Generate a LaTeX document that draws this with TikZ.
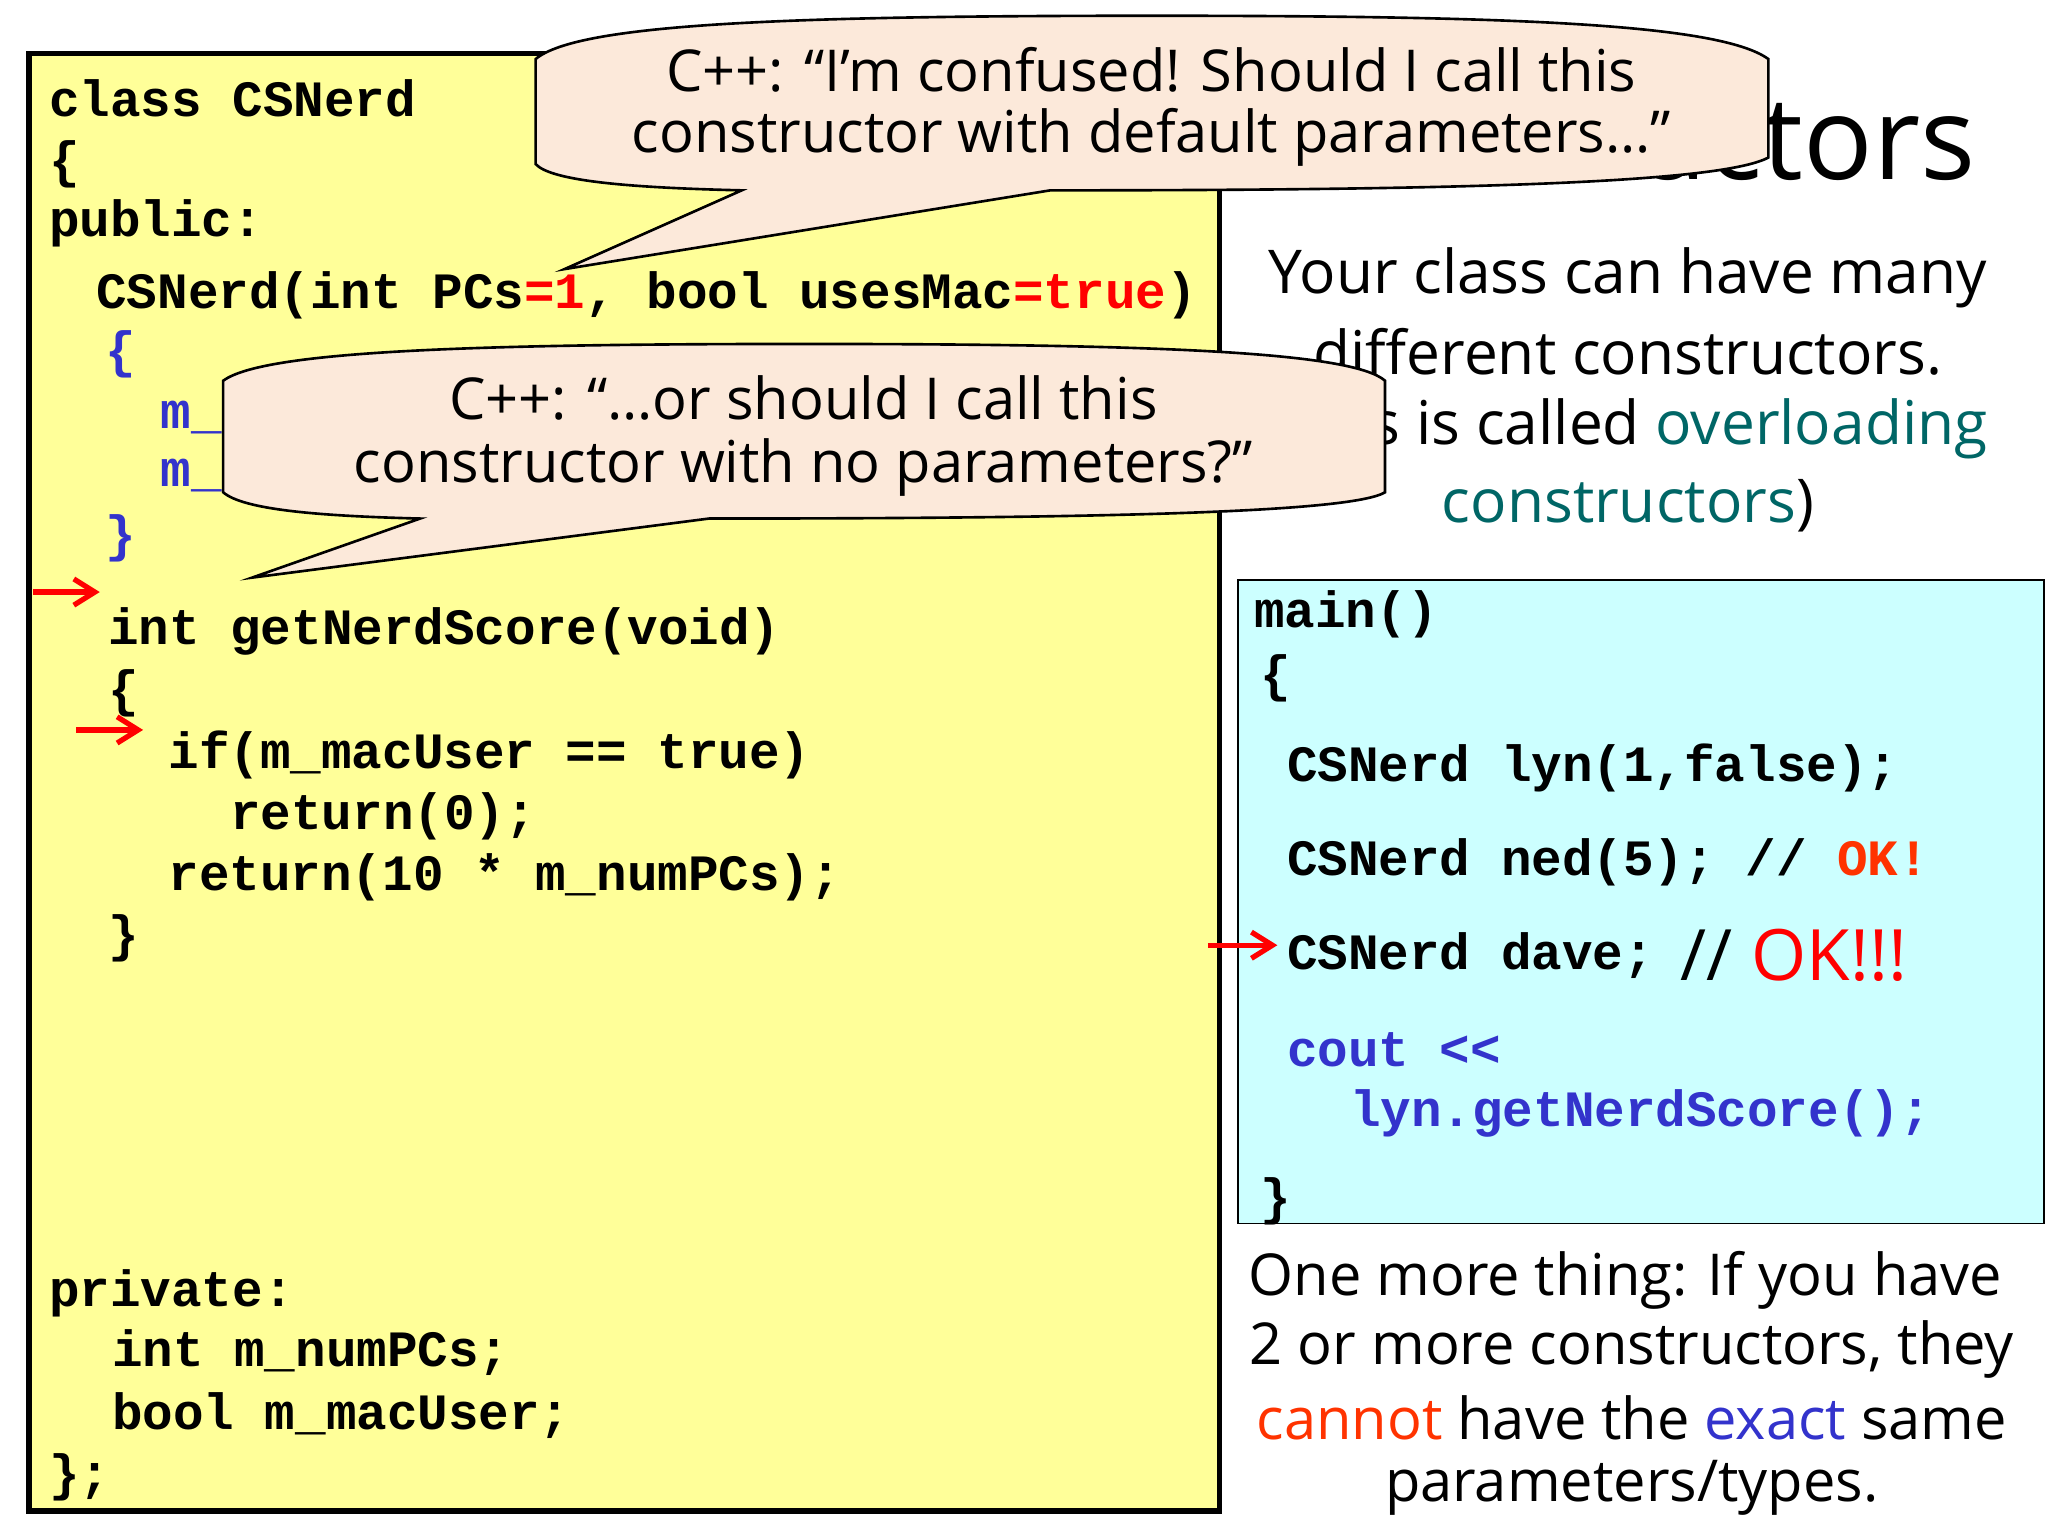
\documentclass[tikz,border=0pt]{standalone}
\usepackage{fontspec}
\setmainfont{Open Sans}
\newfontfamily\codefont{Liberation Mono}[BoldFont={Liberation Mono Bold}]
\usetikzlibrary{arrows.meta}
\definecolor{ylw}{HTML}{FFFF99}
\definecolor{cyn}{HTML}{CCFFFF}
\definecolor{peach}{HTML}{FCE9DA}
\definecolor{teal2}{HTML}{006666}
\definecolor{rd}{HTML}{FF0000}
\definecolor{org}{HTML}{FF3300}
\definecolor{blu}{HTML}{3333CC}
\tikzset{
 code/.style={anchor=west,inner sep=0pt,font=\codefont\bfseries\fontsize{19.4}{22}\selectfont},
 sans/.style={inner sep=0pt,font=\fontsize{23}{27}\selectfont},
 bsans/.style={inner sep=0pt,font=\fontsize{22}{26}\selectfont},
 bubble/.style={draw=black,line width=1pt,fill=peach},
 redarrow/.style={draw=rd,line width=2pt,-{Straight Barb[length=8pt,width=10pt]}}
}
\begin{document}
\begin{tikzpicture}[x=0.5pt,y=-0.5pt]
\useasboundingbox (0,0) rectangle (1560,1170);
\fill[white] (0,0) rectangle (1560,1170);
% title
\node[anchor=east,inner sep=0pt,font=\fontsize{44}{50}\selectfont] (title) at (1505,105) {Constructors};
% yellow box
\draw[line width=2pt,fill=ylw] (22,41) rectangle (929,1151);
\coordinate (ybox) at (22,41);
% cyan box
\draw[line width=0.6pt,fill=cyn] (943,442) rectangle (1557,932);
\coordinate (cbox) at (943,442);
% left code
\node[code] (c1) at (37,75) {class CSNerd};
\node[code] (c2) at (37,125) {\{};
\node[code] (c3) at (37,170) {public:};
\node[code] (c4) at (73,225) {CSNerd(int PCs\textcolor{rd}{=1}, bool usesMac\textcolor{rd}{=true})};
\node[code,text=blu] (c5) at (80,270) {\{};
\node[code,text=blu] (c6) at (122,318) {m\_};
\node[code,text=blu] (c7) at (122,362) {m\_};
\node[code,text=blu] (c8) at (80,410) {\}};
\node[code] (c9) at (82,481) {int getNerdScore(void)};
\node[code] (c10) at (82,528) {\{};
\node[code] (c11) at (128,575) {if(m\_macUser == true)};
\node[code] (c12) at (175,622) {return(0);};
\node[code] (c13) at (128,668) {return(10 * m\_numPCs);};
\node[code] (c14) at (82,715) {\}};
\node[code] (c15) at (37,985) {private:};
\node[code] (c16) at (85,1030) {int m\_numPCs;};
\node[code] (c17) at (85,1078) {bool m\_macUser;};
\node[code] (c18) at (37,1125) {\};};
% arrows
\coordinate (a1s) at (25,451); \coordinate (a1e) at (76,451);
\coordinate (a2s) at (58,556); \coordinate (a2e) at (109,556);
\coordinate (a3s) at (920,720); \coordinate (a3e) at (973,720);
\draw[redarrow] (a1s) -- (a1e);
\draw[redarrow] (a2s) -- (a2e);
\draw[redarrow] (a3s) -- (a3e);
% right code
\node[code] (r1) at (955,468) {main()};
\node[code] (r2) at (960,517) {\{};
\node[code] (r3) at (980,585) {CSNerd lyn(1,false);};
\node[code] (r4) at (980,657) {CSNerd ned(5); // \textcolor{org}{OK!}};
\node[code] (r5) at (980,728) {CSNerd dave;};
\node[anchor=west,inner sep=0pt,font=\fontsize{27}{30}\selectfont] (r5b) at (1280,728) {// \textcolor{rd}{OK!!!}};
\node[code,text=blu] (r6) at (980,800) {cout <<};
\node[code,text=blu] (r7) at (1028,848) {lyn.getNerdScore();};
\node[code] (r8) at (960,915) {\}};
% right text
\node[sans] (t1) at (1240,212) {Your class can have many};
\node[sans] (t2) at (1240,268) {different constructors.};
\node[sans] (t3) at (1240,327) {(This is called \textcolor{teal2}{overloading}};
\node[sans] (t4) at (1240,385) {\textcolor{teal2}{constructors})};
% bottom text
\node[bsans] (b1) at (1238,975) {One more thing: If you have};
\node[bsans] (b2) at (1243,1028) {2 or more constructors, they};
\node[bsans] (b3) at (1243,1080) {\textcolor{org}{cannot} have the \textcolor{blu}{exact} same};
\node[bsans] (b4) at (1243,1133) {parameters/types.};
% bubble 1
\draw[bubble] (408,125) -- (408,45) .. controls (440,18) and (600,12) .. (878,12)
  .. controls (1150,12) and (1310,18) .. (1347,45) -- (1347,120)
  .. controls (1310,140) and (1100,145) .. (800,145) -- (430,205) -- (565,145)
  .. controls (480,143) and (420,138) .. (408,125) -- cycle;
\node[bsans] (q1a) at (877,53) {C++: “I’m confused! Should I call this};
\node[bsans] (q1b) at (877,105) {constructor with default parameters…”};
% bubble 2
\draw[bubble] (170,375) -- (170,290) .. controls (200,268) and (350,262) .. (612,262)
  .. controls (880,262) and (1030,268) .. (1055,290) -- (1055,375)
  .. controls (1030,390) and (850,395) .. (540,395) -- (192,440) -- (320,395)
  .. controls (240,393) and (185,388) .. (170,375) -- cycle;
\node[bsans] (q2a) at (612,303) {C++: “…or should I call this};
\node[bsans] (q2b) at (612,356) {constructor with no parameters?”};
\end{tikzpicture}
\end{document}
